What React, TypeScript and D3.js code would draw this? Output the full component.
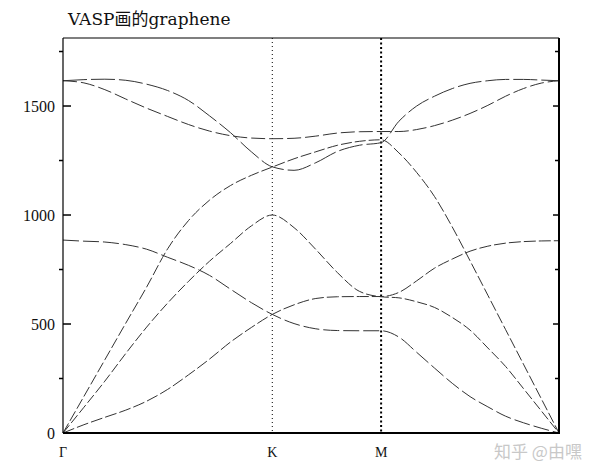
import React from "react";
import * as d3 from "d3";

// k-path distance (Γ=0, K=1, M=1.52, Γ=2.37)
const kPath = [
  0, 0.1, 0.2, 0.3, 0.4, 0.5, 0.6, 0.7, 0.8, 0.9, 1.0,
  1.104, 1.208, 1.312, 1.416, 1.52,
  1.605, 1.69, 1.775, 1.86, 1.945, 2.03, 2.115, 2.2, 2.285, 2.37,
];

const symLabels = ["Γ", "K", "M"];
const symPos = [0, 1.0, 1.52];

const yTicksMajor = [0, 500, 1000, 1500];
const yTicksMinor = [250, 750, 1250, 1750];

// phonon branches (cm^-1)
const bandA = [0, 38, 72, 105, 146, 200, 267, 339, 417, 484, 544, 588, 617, 625, 626, 626, 645, 698, 756, 798, 834, 857, 871, 878, 881, 882];
const bandB = [885, 880, 876, 864, 843, 806, 769, 723, 660, 598, 544, 502, 478, 470, 469, 469, 440, 370, 298, 228, 167, 120, 77, 47, 22, 0];
const bandTA = [0, 118, 238, 365, 486, 596, 696, 788, 869, 950, 1000, 942, 842, 735, 650, 625, 620, 602, 576, 530, 472, 390, 305, 204, 102, 0];
const bandLA = [0, 168, 336, 504, 670, 845, 975, 1068, 1135, 1182, 1220, 1258, 1290, 1320, 1338, 1345, 1285, 1195, 1085, 945, 790, 632, 474, 316, 158, 0];
const bandTO = [1616, 1621, 1623, 1618, 1600, 1571, 1525, 1455, 1378, 1290, 1221, 1205, 1240, 1292, 1320, 1332, 1430, 1500, 1545, 1580, 1604, 1616, 1622, 1622, 1619, 1616];
const bandLO = [1616, 1606, 1575, 1532, 1490, 1452, 1415, 1385, 1364, 1353, 1350, 1352, 1362, 1376, 1382, 1383, 1383, 1392, 1410, 1435, 1466, 1503, 1545, 1580, 1605, 1616];

const bands = [
  { values: bandA, dash: "12,3" },
  { values: bandB, dash: "16,4" },
  { values: bandTA, dash: "10,3" },
  { values: bandLA, dash: "11,3" },
  { values: bandTO, dash: "24,4" },
  { values: bandLO, dash: "14,4" },
];

const W = 600;
const H = 473;
const left = 63;
const right = 559;
const top = 38;
const bottom = 433;

export default function App() {
  const x = d3.scaleLinear().domain([0, 2.37]).range([left, right]);
  const y = d3.scaleLinear().domain([0, 1812]).range([bottom, top]);

  const line = d3
    .line<number>()
    .x((_, i) => x(kPath[i]))
    .y((d) => y(d))
    .curve(d3.curveMonotoneX);

  const serif = "'Liberation Serif', 'DejaVu Serif', serif";

  return (
    <svg
      width={W}
      height={H}
      style={{ position: "absolute", left: 0, top: 0, background: "#fff" }}
    >
      {/* title */}
      <text x={68} y={25} fontFamily="'DejaVu Serif', 'Noto Sans CJK SC', serif" fontSize={17} fill="#111">
        VASP画的graphene
      </text>

      {/* high-symmetry lines */}
      <line x1={x(symPos[1])} x2={x(symPos[1])} y1={top} y2={bottom} stroke="#000" strokeWidth={1} strokeDasharray="1,3" />
      <line x1={x(symPos[2])} x2={x(symPos[2])} y1={top} y2={bottom} stroke="#000" strokeWidth={2} strokeDasharray="2,2.5" />

      {/* bands */}
      <g fill="none" stroke="#333" strokeWidth={1}>
        {bands.map((b, i) => (
          <path key={i} d={line(b.values) || ""} strokeDasharray={b.dash} />
        ))}
      </g>

      {/* frame */}
      <line x1={left} x2={right} y1={top} y2={top} stroke="#000" strokeWidth={1.2} />
      <line x1={left} x2={left} y1={top} y2={bottom} stroke="#000" strokeWidth={1.2} />
      <line x1={right} x2={right} y1={top} y2={bottom + 1} stroke="#000" strokeWidth={2} />
      <line x1={left} x2={right + 1} y1={bottom} y2={bottom} stroke="#000" strokeWidth={2} />

      {/* y ticks */}
      {yTicksMajor.map((t) => (
        <g key={"M" + t}>
          {t > 0 && <line x1={left} x2={left + 8} y1={y(t)} y2={y(t)} stroke="#000" strokeWidth={1.5} />}
          {t > 0 && <line x1={right - 6} x2={right} y1={y(t)} y2={y(t)} stroke="#000" strokeWidth={1.5} />}
          <text
            x={55}
            y={y(t)}
            dy="0.35em"
            textAnchor="end"
            fontFamily={serif}
            fontSize={16}
            fill="#111"
          >
            {t}
          </text>
        </g>
      ))}
      {yTicksMinor.map((t) => (
        <g key={"m" + t}>
          <line x1={left - 4} x2={left} y1={y(t)} y2={y(t)} stroke="#000" strokeWidth={1.5} />
          <line x1={right - 4} x2={right} y1={y(t)} y2={y(t)} stroke="#000" strokeWidth={1.5} />
        </g>
      ))}

      {/* x labels */}
      {symLabels.map((s, i) => (
        <text
          key={s}
          x={x(symPos[i])}
          y={452}
          dy="0.35em"
          textAnchor="middle"
          fontFamily={serif}
          fontSize={14}
          fill="#111"
        >
          {s}
        </text>
      ))}

      {/* watermark */}
      <text x={494} y={458} fontFamily="'Noto Sans CJK SC', sans-serif" fontSize={17} fill="#c8c8c8">
        知乎 @由嘿
      </text>
    </svg>
  );
}
